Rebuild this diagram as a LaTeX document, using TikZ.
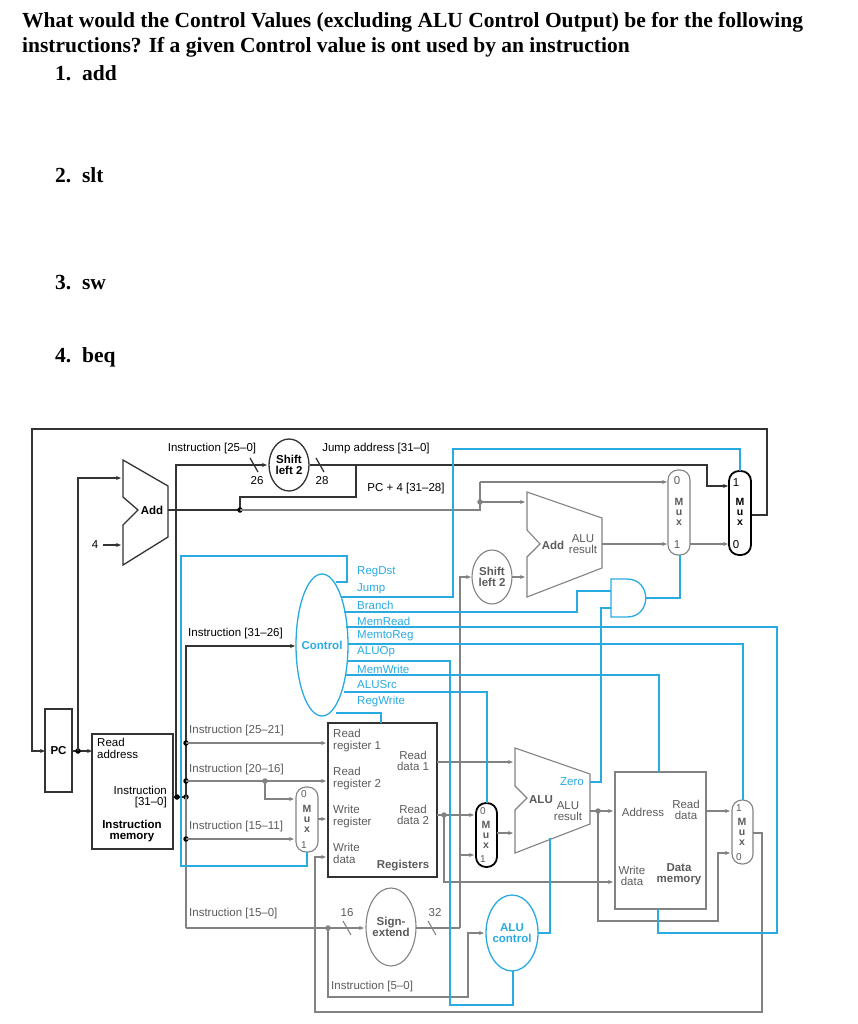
\documentclass[tikz,border=0pt]{standalone}
\usepackage{fontspec}
\setmainfont{Liberation Serif}
\newfontfamily\dsans{Liberation Sans}
\usetikzlibrary{arrows.meta,shapes.geometric}
\definecolor{cblue}{RGB}{41,171,226}
\definecolor{wgray}{RGB}{130,130,130}
\begin{document}
\begin{tikzpicture}[x=1pt,y=-1pt,
  ar/.style={-{Stealth[length=5pt,width=4pt]}},
  gw/.style={draw=wgray,line width=1.1pt},
  bw/.style={draw=black!80,line width=1.3pt},
  cw/.style={draw=cblue,line width=1.3pt},
  cthick/.style={draw=cblue,line width=2.6pt},
  lab/.style={font=\dsans\fontsize{11.5}{11.5}\selectfont,inner sep=0pt},
  blabf/.style={font=\dsans\bfseries\fontsize{11.5}{11.5}\selectfont},
  muxf/.style={font=\dsans\bfseries\fontsize{10.5}{10}\selectfont,align=center},
  sm/.style={font=\dsans\fontsize{10}{10}\selectfont},
  glab/.style={lab,text=wgray!70!black},
  blab/.style={lab,text=cblue},
  dot/.style={circle,fill=#1,inner sep=0pt,minimum size=5.5pt},
  dot/.default=black,
  q/.style={font=\bfseries\fontsize{21.5}{23}\selectfont,anchor=west,inner sep=0pt}]
\useasboundingbox (0,0) rectangle (858,1024);
% questions
\node[q] at (22,22) {What would the Control Values (excluding ALU Control Output) be for the following};
\node[q] at (22,47) {instructions? If a given Control value is ont used by an instruction};
\node[q] at (55,73) {1.\ \ add};
\node[q] at (55,175) {2.\ \ slt};
\node[q] at (55,283) {3.\ \ sw};
\node[q] at (55,357) {4.\ \ beq};

% ---------- blocks ----------
\draw[bw] (45,709) rectangle (72,792);
\node[lab,blabf] (pc) at (58.5,751) {PC};
\draw[bw] (92,734) rectangle (173,849);
\node[lab,align=left,anchor=north west] (ra) at (97,738) {Read\\address};
\node[lab,align=right,anchor=east] (im) at (167,797) {Instruction\\{[31–0]}};
\node[lab,blabf,align=center] (imem) at (132,831) {Instruction\\memory};
% top adder
\draw[bw,fill=white] (123,460) -- (168,486) -- (168,537) -- (123,565) -- (123,525) -- (138,510) -- (123,497) -- cycle;
\node[lab,blabf] (add1) at (152,510) {Add};
\node[lab] (four) at (95,545) {4};
% shift left 2 (jump)
\draw[bw] (289,465) ellipse (20 and 26);
\node[lab,blabf,align=center] (sl1) at (289,465) {Shift\\left 2};
\node[lab] at (212,449) {Instruction [25–0]};
\node[lab] at (257,481) {26};
\node[lab] at (322,481) {28};
\node[lab] at (376,449) {Jump address [31–0]};
\node[lab] at (406,489) {PC + 4 [31–28]};
% branch adder
\draw[gw,fill=white] (527,492) -- (602,518) -- (602,568) -- (527,597) -- (527,557) -- (540,544) -- (527,530) -- cycle;
\node[glab,blabf] (add2) at (553,545) {Add};
\node[glab,align=center] at (583,544) {ALU\\result};
\draw[gw] (492,577) ellipse (20 and 27);
\node[glab,blabf,align=center] (sl2) at (492,577) {Shift\\left 2};
% muxes
\draw[gw,rounded corners=10] (668,470) rectangle (690,555);
\node[glab,muxf] (m1) at (679,512) {M\\u\\x};
\node[glab] at (677,481) {0}; \node[glab] at (677,545) {1};
\draw[draw=black,line width=1.8pt,rounded corners=10] (729,471) rectangle (751,555);
\node[lab,muxf] (m2) at (740,512) {M\\u\\x};
\node[lab] at (736,483) {1}; \node[lab] at (736,545) {0};
% AND gate
\draw[cw,fill=white] (611,579) -- (627,579) .. controls (652,579) and (652,617) .. (627,617) -- (611,617) -- cycle;
% control
\draw[cw] (322,645) ellipse (26 and 71);
\node[blab,blabf] (ctl) at (322,645) {Control};
\foreach \t/\y in {RegDst/572,Jump/589,Branch/605,MemRead/621,MemtoReg/636,ALUOp/652,MemWrite/669,ALUSrc/685,RegWrite/702}
  \node[blab,anchor=west] at (357,\y) {\t};
% registers
\draw[bw] (328,723) rectangle (437,877);
\node[glab,anchor=north west,align=left] at (333,729) {Read\\register 1};
\node[glab,anchor=north west,align=left] at (333,767) {Read\\register 2};
\node[glab,anchor=north west,align=left] at (333,805) {Write\\register};
\node[glab,anchor=north west,align=left] at (333,843) {Write\\data};
\node[glab,align=center] at (413,761) {Read\\data 1};
\node[glab,align=center] at (413,815) {Read\\data 2};
\node[glab,blabf] (regs) at (403,866) {Registers};
\draw[gw,rounded corners=10] (296,787) rectangle (318,852);
\node[glab,muxf] (m0) at (307,819) {M\\u\\x};
\node[glab,sm] at (304,794) {0}; \node[glab,sm] at (304,845) {1};
% sign extend
\draw[gw] (391,927) ellipse (25 and 39);
\node[glab,blabf,align=center] (se) at (391,927) {Sign-\\extend};
\node[glab] at (347,913) {16}; \node[glab] at (435,913) {32};
% ALU
\draw[gw,fill=white] (515,748) -- (590,774) -- (590,824) -- (515,853) -- (515,810) -- (527,798) -- (515,786) -- cycle;
\node[glab,blabf] (alu) at (541,800) {ALU};
\node[glab,align=center] at (568,811) {ALU\\result};
\node[blab] at (572,782) {Zero};
\draw[draw=black,line width=1.8pt,rounded corners=10] (476,803) rectangle (497,867);
\node[glab,muxf] (m3) at (486,835) {M\\u\\x};
\node[glab,sm] at (483,811) {0}; \node[glab,sm] at (483,859) {1};
% ALU control
\draw[cw] (512,933) ellipse (26 and 38);
\node[blab,blabf,align=center] (aluc) at (512,933) {ALU\\control};
% data memory
\draw[gw] (615,772) rectangle (706,909);
\node[glab] at (643,812) {Address};
\node[glab,align=center] at (686,810) {Read\\data};
\node[glab,align=center] at (632,876) {Write\\data};
\node[glab,blabf,align=center] (dmem) at (679,874) {Data\\memory};
\draw[gw,rounded corners=10] (732,800) rectangle (753,864);
\node[glab,muxf] (m4) at (742,832) {M\\u\\x};
\node[glab,sm] at (739,808) {1}; \node[glab,sm] at (739,857) {0};
% instruction labels
\node[glab,anchor=west] at (189,731) {Instruction [25–21]};
\node[glab,anchor=west] at (189,770) {Instruction [20–16]};
\node[glab,anchor=west] at (189,827) {Instruction [15–11]};
\node[glab,anchor=west] at (189,914) {Instruction [15–0]};
\node[glab,anchor=west] at (331,987) {Instruction [5–0]};
\node[lab,anchor=west] at (188,634) {Instruction [31–26]};

% ---------- black wires ----------
\draw[bw,ar] (752,515) -- (767,515) -- (767,429) -- (32,429) -- (32,751) -- (45,751);
\draw[bw,ar] (72,751) -- (92,751);
\node[dot] at (78,751) {};
\draw[bw,ar] (78,751) -- (78,478) -- (121,478);
\draw[bw,ar] (103,545) -- (121,545);
\draw[bw] (168,510) -- (240,510) -- (240,497) -- (356,497) -- (356,465);
\node[dot] at (240,510) {};
\draw[bw,ar] (310,465) -- (707,465) -- (707,486) -- (728,486);
\draw[bw] (316,458) -- (324,472);
\draw[bw,ar] (176,797) -- (176,465) -- (267,465);
\draw[bw] (250,458) -- (258,472);
\draw[bw] (173,797) -- (186,797);
\node[dot] at (177,797) {}; \node[dot] at (186,797) {};
\draw[bw,ar] (186,797) -- (186,646) -- (295,646);
% ---------- gray wires ----------
\draw[gw] (240,510) -- (480,510) -- (480,482);
\draw[gw,ar] (480,482) -- (667,482);
\node[dot=wgray] at (480,502) {};
\draw[gw,ar] (480,502) -- (525,502);
\draw[gw,ar] (602,544) -- (667,544);
\draw[gw,ar] (690,544) -- (728,544);
\draw[gw,ar] (512,577) -- (525,577);
\draw[gw,ar] (460,928) -- (460,577) -- (471,577);
\draw[gw] (186,797) -- (186,928);
\foreach \y in {743,781,839} \node[dot] at (186,\y) {};
\draw[gw,ar] (186,743) -- (326,743);
\draw[gw,ar] (186,781) -- (326,781);
\node[dot=wgray] at (265,781) {};
\draw[gw,ar] (265,781) -- (265,799) -- (294,799);
\draw[gw,ar] (186,839) -- (294,839);
\draw[gw,ar] (318,819) -- (326,819);
\draw[gw,ar] (186,928) -- (364,928);
\draw[gw] (343,921) -- (351,935);
\node[dot=wgray] at (328,928) {};
\draw[gw] (416,928) -- (460,928);
\draw[gw] (428,921) -- (436,935);
\draw[gw,ar] (328,928) -- (328,997) -- (468,997) -- (468,933) -- (484,933);
\draw[gw,ar] (753,833) -- (762,833) -- (762,1012) -- (315,1012) -- (315,857) -- (326,857);
\draw[gw,ar] (437,762) -- (513,762);
\draw[gw,ar] (437,815) -- (474,815);
\node[dot=wgray] at (444,815) {};
\draw[gw,ar] (444,815) -- (444,882) -- (613,882);
\draw[gw,ar] (460,855) -- (474,855);
\draw[gw,ar] (497,833) -- (513,833);
\draw[gw,ar] (590,811) -- (613,811);
\node[dot=wgray] at (598,811) {};
\draw[gw,ar] (598,811) -- (598,921) -- (718,921) -- (718,853) -- (730,853);
\draw[gw,ar] (706,811) -- (730,811);
% ---------- control wires ----------
\draw[cw] (307,852) -- (307,866) -- (181,866) -- (181,556) -- (347,556) -- (347,582) -- (336,582);
\draw[cw] (341,597) -- (453,597) -- (453,449) -- (740,449) -- (740,471);
\draw[cw] (344,612) -- (577,612) -- (577,591) -- (611,591);
\draw[cw] (590,782) -- (601,782) -- (601,608) -- (611,608);
\draw[cw] (646,598) -- (680,598) -- (680,555);
\draw[cw] (346,627) -- (777,627) -- (777,933) -- (658,933) -- (658,909);
\draw[cw] (348,644) -- (743,644) -- (743,800);
\draw[cthick] (348,661) -- (450,661) -- (450,1005) -- (513,1005) -- (513,971);
\draw[cthick] (538,933) -- (550,933) -- (550,838);
\draw[cw] (346,675) -- (659,675) -- (659,772);
\draw[cw] (344,692) -- (487,692) -- (487,803);
\draw[cw] (336,713) -- (381,713) -- (381,723);
\end{tikzpicture}
\end{document}
